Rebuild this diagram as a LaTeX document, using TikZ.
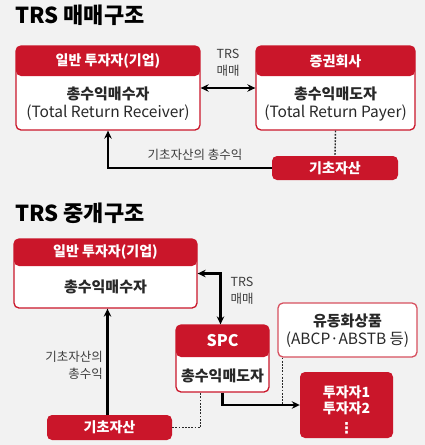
\documentclass[tikz,border=0pt]{standalone}
\usepackage{fontspec}
\setmainfont{Noto Sans CJK KR}
\newfontfamily\trsblack{Noto Sans CJK KR Black}
\newfontfamily\trsdots{DejaVu Sans}
\usetikzlibrary{arrows.meta}
\definecolor{trsred}{RGB}{202,22,42}
\definecolor{trsbg}{RGB}{242,242,242}
\definecolor{trstext}{RGB}{40,40,40}
\newcommand{\trseng}[1]{{\fontsize{15.5}{18}\selectfont\mdseries #1}}
\tikzset{
  trs_box/.style = {rectangle, rounded corners=5pt, draw=trsred, fill=white,
    line width=1.3pt, inner sep=0pt,
    path picture={\fill[trsred] (path picture bounding box.north west)
      rectangle ([yshift=-#1]path picture bounding box.north east);}},% box with red head
  trs_plain/.style = {rectangle, rounded corners=5pt, draw=trsred!75, fill=white,
    line width=1.3pt, inner sep=0pt},
  trs_red/.style = {rectangle, rounded corners=5pt, fill=trsred, text=white,
    font=\bfseries\fontsize{14}{18}\selectfont, inner sep=0pt, align=center},
  trs_head/.style = {text=white, font=\bfseries\fontsize{14}{16}\selectfont, inner sep=0pt},
  trs_body/.style = {text=trstext, font=\bfseries\fontsize{15}{18}\selectfont, align=center,
    inner sep=0pt},
  trs_lbl/.style = {text=trstext!90, font=\fontsize{12.5}{17}\selectfont, align=center,
    inner sep=0pt},
  trs_title/.style = {text=black, font=\trsblack\fontsize{22}{24}\selectfont, anchor=west,
    inner sep=0pt},
  trs_arrow/.style = {-{Stealth[length=8pt,width=7.5pt]}, line width=2.2pt},
  trs_both/.style = {{Stealth[length=8pt,width=7.5pt]}-{Stealth[length=8pt,width=7.5pt]},
    line width=2.2pt},
  trs_dots/.style = {dash pattern=on 1.8pt off 1.4pt, line width=1.4pt, trstext},
}

\begin{document}
\begin{tikzpicture}[x=1pt,y=-1pt]
  \fill[trsbg] (0,0) rectangle (425,445);
  \useasboundingbox (0,0) rectangle (425,445);

  %   TRS trade structure
  \node[trs_title] (title1) at (15,15) {TRS 매매구조};
  \node[trs_box=30pt, minimum width=184pt, minimum height=84pt] (buyer) at (108,88) {};
  \node[trs_head] (buyerh) at (108,61) {일반 투자자(기업)};
  \node[trs_body] (buyerb) at (108,104) {총수익매수자\\\trseng{(Total Return Receiver)}};

  \node[trs_box=30pt, minimum width=159pt, minimum height=84pt] (broker) at (335.5,88) {};
  \node[trs_head] (brokerh) at (335.5,61) {증권회사};
  \node[trs_body] (brokerb) at (335.5,104) {총수익매도자\\\trseng{(Total Return Payer)}};

  \node[trs_red, minimum width=126pt, minimum height=24pt] (asset1) at (335,168) {기초자산};

  \node[trs_lbl] (trs1) at (228,63) {TRS\\매매};
  \node[trs_lbl] (ret1) at (195,155) {기초자산의 총수익};

  \draw[trs_both] (buyer) -- (broker);
  \draw[trs_dots] (broker.south) -- (asset1.north);
  \draw[trs_arrow] (asset1.west) -| (buyer.south);

  %   TRS brokerage structure
  \node[trs_title] (title2) at (15,213) {TRS 중개구조};
  \node[trs_box=27pt, minimum width=183pt, minimum height=69pt] (inv) at (105.5,273.5) {};
  \node[trs_head] (invh) at (105.5,252.5) {일반 투자자(기업)};
  \node[trs_body] (invb) at (105.5,287) {총수익매수자};

  \node[trs_box=32pt, minimum width=93pt, minimum height=67pt] (spc) at (222.5,358.5) {};
  \node[trs_head, font=\bfseries\fontsize{16}{18}\selectfont] (spch) at (222.5,341) {SPC};
  \node[trs_body] (spcb) at (222.5,376) {총수익매도자};

  \node[trs_plain, minimum width=139pt, minimum height=54pt] (liq) at (347.5,330) {};
  \node[trs_body] (liqb) at (347.5,331) {유동화상품\\\trseng{(ABCP·ABSTB 등)}};

  \node[trs_red, minimum width=93pt, minimum height=66pt] (holders) at (346.5,405) {};
  \node[trs_head, align=center] (holdersb) at (346.5,400) {투자자1\\투자자2};
  \node[trs_head, font=\trsdots\bfseries\fontsize{15}{15}\selectfont] (holdersd) at (346.5,428) {⋮};
  \node[trs_red, minimum width=125pt, minimum height=25pt] (asset2) at (109.5,427.5) {기초자산};

  \node[trs_lbl] (trs2) at (242,291) {TRS\\매매};
  \node[trs_lbl, anchor=east, align=right] (ret2) at (103,365) {기초자산의\\총수익};

  \draw[trs_both] ([xshift=-2pt]spc.north) |- (inv.east);
  \draw[trs_arrow] ([xshift=-2pt]asset2.north) -- ([xshift=-2pt]asset2.north |- inv.south);
  \draw[trs_dots] (asset2.east) -| ([xshift=-22pt]spc.south);
  \draw[trs_arrow] (spc.south) |- (holders.west);
  \draw[trs_dots] ([xshift=5pt]liq.south west) -- ([xshift=5pt]liq.south west |- holders.west);
\end{tikzpicture}
\end{document}
